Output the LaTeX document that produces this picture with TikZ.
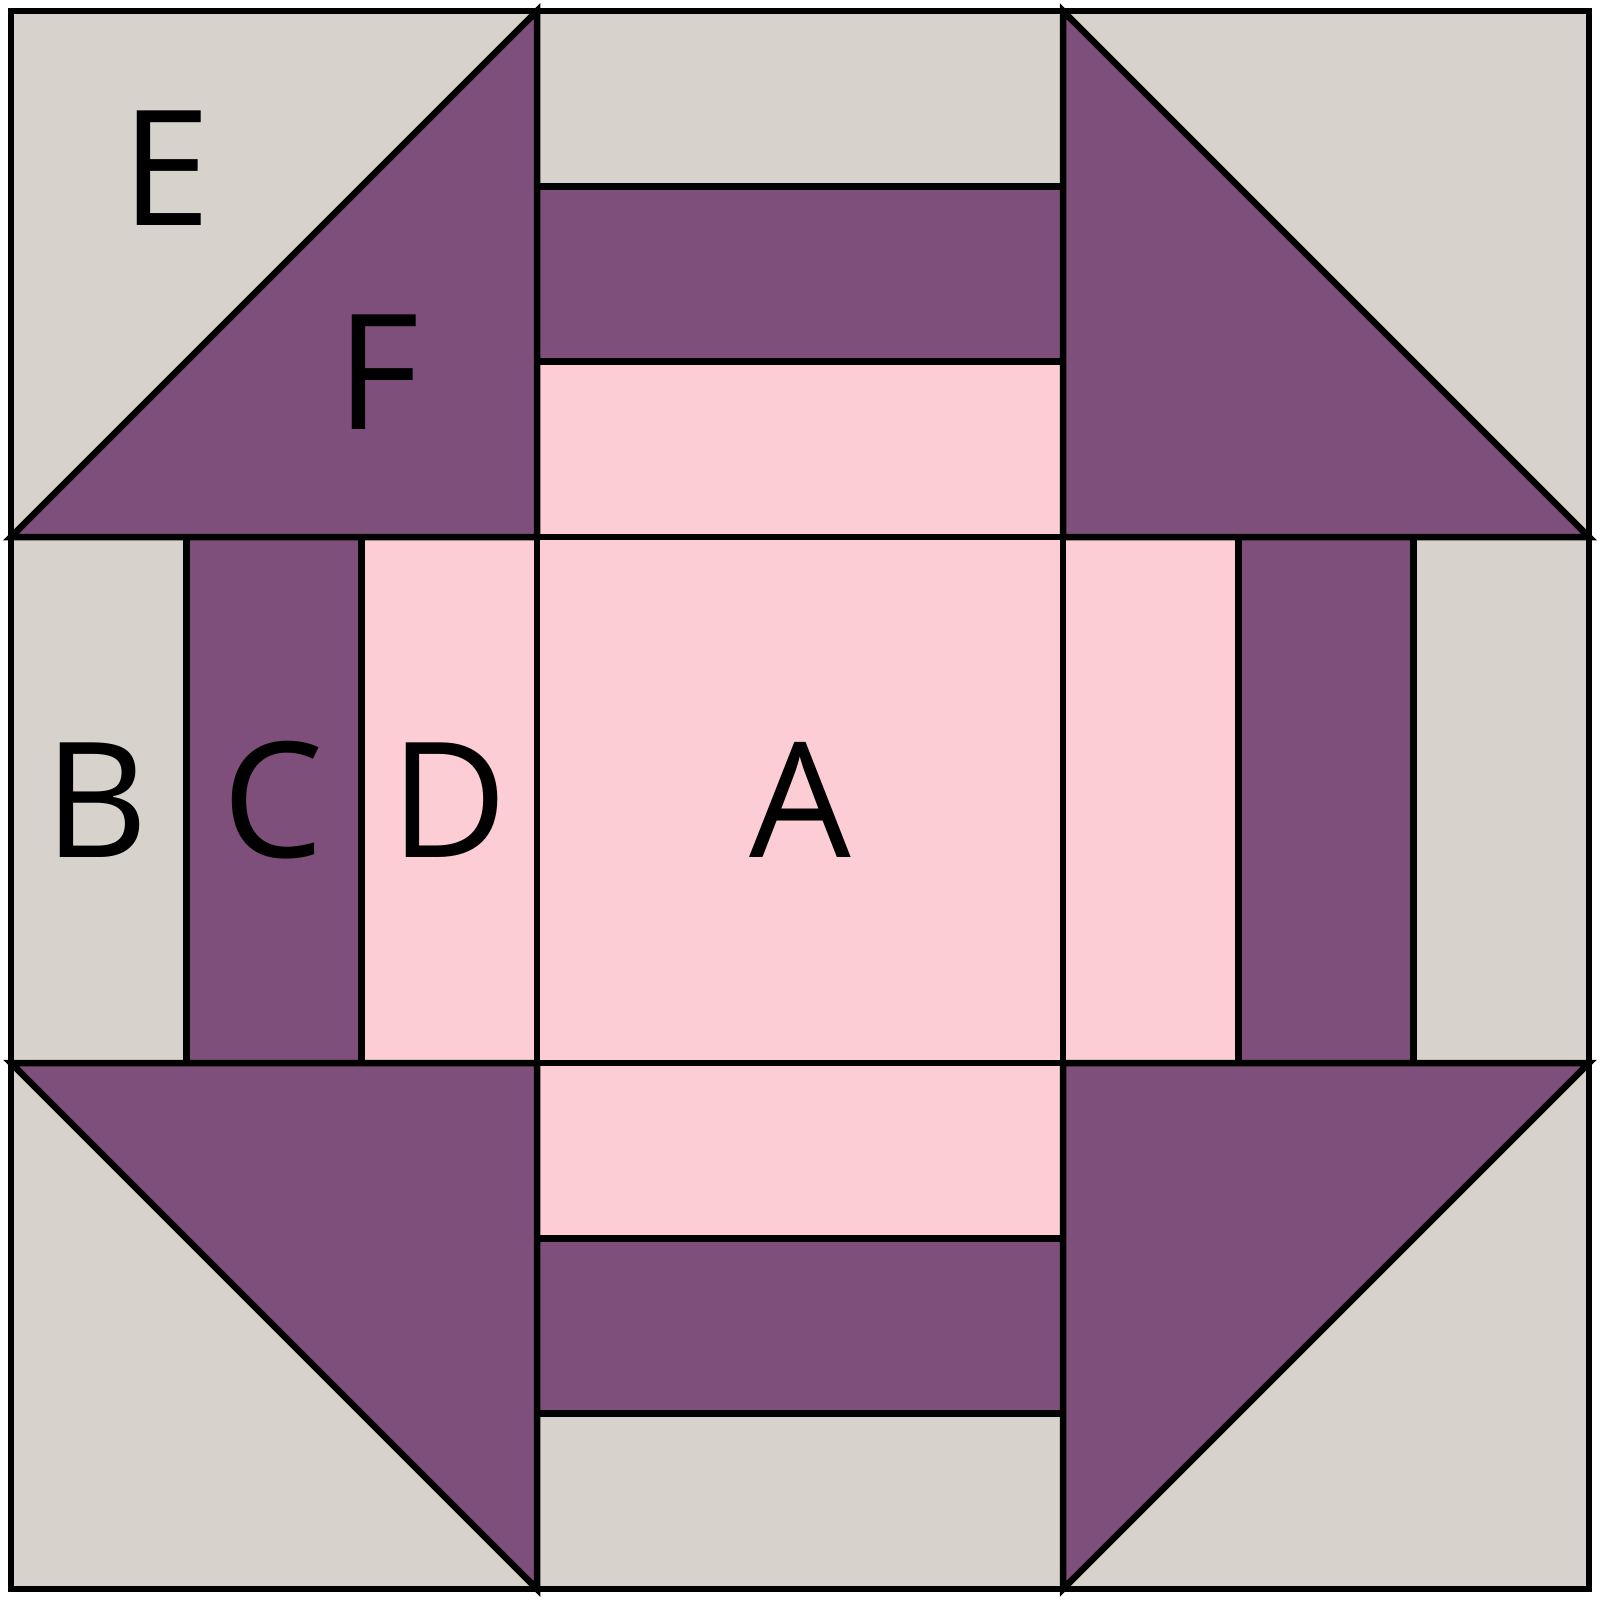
\documentclass[tikz,border=0pt]{standalone}
\usepackage{fontspec}
\setmainfont{Open Sans}
\definecolor{qgray}{HTML}{D7D3CC}
\definecolor{qpurple}{HTML}{7E4F7A}
\definecolor{qpink}{HTML}{FDCDD5}
\begin{document}
\begin{tikzpicture}[x=1.75333cm,y=-1.75333cm,
  seam/.style={draw=black,line width=0.065cm,line join=miter},
  lbl/.style={inner sep=0pt,font=\fontsize{45.7}{52}\selectfont}]
\useasboundingbox (-0.0627,-0.0627) rectangle (9.0627,9.0627);
% background gray
\fill[qgray] (0,0) rectangle (9,9);
% pink center cross
\fill[qpink] (3,2) rectangle (6,7);
\fill[qpink] (2,3) rectangle (7,6);
% purple bars
\fill[qpurple] (3,1) rectangle (6,2);
\fill[qpurple] (3,7) rectangle (6,8);
\fill[qpurple] (1,3) rectangle (2,6);
\fill[qpurple] (7,3) rectangle (8,6);
% purple triangles
\fill[qpurple] (0,3) -- (3,0) -- (3,3) -- cycle;
\fill[qpurple] (6,0) -- (6,3) -- (9,3) -- cycle;
\fill[qpurple] (0,6) -- (3,6) -- (3,9) -- cycle;
\fill[qpurple] (6,6) -- (9,6) -- (6,9) -- cycle;
% seams
\draw[seam] (0,0) rectangle (9,9);
\draw[seam] (3,0) -- (3,9);
\draw[seam] (6,0) -- (6,9);
\draw[seam] (0,3) -- (9,3);
\draw[seam] (0,6) -- (9,6);
\draw[seam] (3,1) -- (6,1);
\draw[seam] (3,2) -- (6,2);
\draw[seam] (3,7) -- (6,7);
\draw[seam] (3,8) -- (6,8);
\draw[seam] (1,3) -- (1,6);
\draw[seam] (2,3) -- (2,6);
\draw[seam] (7,3) -- (7,6);
\draw[seam] (8,3) -- (8,6);
\draw[seam] (0,3) -- (3,0) -- (3,3) -- cycle;
\draw[seam] (6,0) -- (6,3) -- (9,3) -- cycle;
\draw[seam] (0,6) -- (3,6) -- (3,9) -- cycle;
\draw[seam] (6,6) -- (9,6) -- (6,9) -- cycle;
% labels
\node[lbl] (E) at (0.883,0.895) {E};
\node[lbl] (F) at (2.095,2.059) {F};
\node[lbl] (B) at (0.488,4.5) {B};
\node[lbl] (C) at (1.495,4.5) {C};
\node[lbl] (D) at (2.497,4.5) {D};
\node[lbl] (A) at (4.5,4.5) {A};
\end{tikzpicture}
\end{document}
